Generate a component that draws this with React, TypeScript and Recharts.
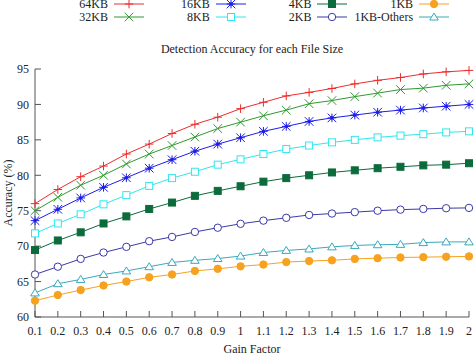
import React from 'react';
import { LineChart, Line, XAxis, YAxis } from 'recharts';

const gains = [0.1, 0.2, 0.3, 0.4, 0.5, 0.6, 0.7, 0.8, 0.9, 1.0, 1.1, 1.2, 1.3, 1.4, 1.5, 1.6, 1.7, 1.8, 1.9, 2.0];
const yTicks = [60, 65, 70, 75, 80, 85, 90, 95];

const acc64 = [76.0, 78.0, 79.8, 81.3, 83.0, 84.4, 85.9, 87.2, 88.2, 89.4, 90.3, 91.2, 91.7, 92.25, 92.9, 93.4, 93.8, 94.3, 94.6, 94.8];
const acc32 = [75.0, 76.9, 78.6, 80.0, 81.6, 83.0, 84.2, 85.4, 86.6, 87.5, 88.4, 89.2, 90.1, 90.55, 91.1, 91.6, 92.1, 92.3, 92.7, 92.9];
const acc16 = [73.6, 75.2, 76.8, 78.3, 79.65, 81.0, 82.2, 83.4, 84.4, 85.3, 86.2, 86.9, 87.6, 88.1, 88.5, 88.9, 89.2, 89.5, 89.75, 90.0];
const acc8 = [71.8, 73.2, 74.5, 75.9, 77.2, 78.5, 79.6, 80.5, 81.5, 82.25, 83.0, 83.7, 84.2, 84.65, 85.0, 85.35, 85.6, 85.8, 86.05, 86.2];
const acc4 = [69.45, 70.8, 71.95, 73.2, 74.2, 75.25, 76.15, 77.1, 77.8, 78.45, 79.1, 79.6, 80.0, 80.4, 80.7, 81.0, 81.2, 81.4, 81.5, 81.7];
const acc2 = [66.0, 67.1, 68.2, 69.1, 69.9, 70.7, 71.3, 72.0, 72.6, 73.15, 73.6, 74.0, 74.4, 74.6, 74.8, 75.0, 75.15, 75.25, 75.35, 75.4];
const acc1 = [62.3, 63.1, 63.8, 64.45, 65.0, 65.6, 66.0, 66.5, 66.8, 67.15, 67.4, 67.75, 67.9, 68.0, 68.2, 68.3, 68.4, 68.45, 68.5, 68.55];
const acc1Others = [63.4, 64.7, 65.3, 66.0, 66.5, 67.1, 67.7, 68.0, 68.25, 68.6, 69.1, 69.4, 69.6, 69.9, 70.1, 70.2, 70.25, 70.5, 70.6, 70.6];

const seriesNames = ['64KB', '32KB', '16KB', '8KB', '4KB', '2KB', '1KB', '1KB-Others'];
const seriesKeys = ['kb64', 'kb32', 'kb16', 'kb8', 'kb4', 'kb2', 'kb1', 'kb1o'];
const seriesValues = [acc64, acc32, acc16, acc8, acc4, acc2, acc1, acc1Others];
const seriesColors = ['#ee2c2c', '#2f9a2f', '#1e1eea', '#2ee6f0', '#0b6b3b', '#3a3aa8', '#f7a21e', '#3aaabb'];
const seriesShapes = ['plus', 'cross', 'star', 'square', 'fsquare', 'circle', 'fcircle', 'triangle'];

const data = gains.map((g, i) => {
  const row: any = { gain: g };
  seriesKeys.forEach((k, s) => { row[k] = seriesValues[s][i]; });
  return row;
});

const FONT = '"Liberation Serif", "Times New Roman", serif';
const AXIS = '#555';

function Marker({ shape, cx, cy, color }: { shape: string; cx: number; cy: number; color: string }) {
  const s = 4.3;
  switch (shape) {
    case 'plus':
      return (
        <g stroke={color} strokeWidth={1} fill="none">
          <line x1={cx - s} y1={cy} x2={cx + s} y2={cy} />
          <line x1={cx} y1={cy - s} x2={cx} y2={cy + s} />
        </g>
      );
    case 'cross':
      return (
        <g stroke={color} strokeWidth={1} fill="none">
          <line x1={cx - s} y1={cy - s} x2={cx + s} y2={cy + s} />
          <line x1={cx - s} y1={cy + s} x2={cx + s} y2={cy - s} />
        </g>
      );
    case 'star':
      return (
        <g stroke={color} strokeWidth={1} fill="none">
          <line x1={cx - s} y1={cy} x2={cx + s} y2={cy} />
          <line x1={cx} y1={cy - s} x2={cx} y2={cy + s} />
          <line x1={cx - s} y1={cy - s} x2={cx + s} y2={cy + s} />
          <line x1={cx - s} y1={cy + s} x2={cx + s} y2={cy - s} />
          <circle cx={cx} cy={cy} r={1.3} fill={color} />
        </g>
      );
    case 'square':
      return <rect x={cx - 3.5} y={cy - 3.5} width={7} height={7} stroke={color} strokeWidth={1} fill="#fff" />;
    case 'fsquare':
      return <rect x={cx - 3.5} y={cy - 3.5} width={7} height={7} stroke={color} strokeWidth={1} fill={color} />;
    case 'circle':
      return <circle cx={cx} cy={cy} r={3.7} stroke={color} strokeWidth={1} fill="#fff" />;
    case 'fcircle':
      return <circle cx={cx} cy={cy} r={3.7} stroke={color} strokeWidth={1} fill={color} />;
    case 'triangle':
    default:
      return (
        <polygon
          points={`${cx},${cy - 4} ${cx + 4.3},${cy + 3} ${cx - 4.3},${cy + 3}`}
          stroke={color}
          strokeWidth={1}
          fill="#fff"
        />
      );
  }
}

const makeDot = (shape: string, color: string) => (props: any) => {
  const { cx, cy, index } = props;
  if (cx == null || cy == null) return <g key={`e-${shape}-${index}`} />;
  return (
    <g key={`d-${shape}-${index}`}>
      <Marker shape={shape} cx={cx} cy={cy} color={color} />
    </g>
  );
};

const fmtGain = (v: number) => String(Math.round(v * 10) / 10);

const tickStyle = { fontFamily: FONT, fontSize: 12, fill: '#222' };

function LegendBlock() {
  return (
    <div style={{ position: 'absolute', left: 0, top: 0, width: 474, height: 24 }}>
      {seriesNames.map((name, i) => {
        const col = Math.floor(i / 2);
        const row = i % 2;
        const labelRight = 108 + col * 101.7;
        const cy = row === 0 ? 4.3 : 16.7;
        return (
          <React.Fragment key={name}>
            <div
              style={{
                position: 'absolute',
                left: labelRight - 100,
                width: 100,
                top: cy - 6,
                height: 12,
                lineHeight: '12px',
                textAlign: 'right',
                fontFamily: FONT,
                fontSize: 12,
                color: '#222',
                whiteSpace: 'nowrap',
              }}
            >
              {name}
            </div>
            <svg
              style={{ position: 'absolute', left: labelRight + 6, top: cy - 6 }}
              width={31}
              height={12}
            >
              <line x1={0} y1={6} x2={30} y2={6} stroke={seriesColors[i]} strokeWidth={1} />
              <Marker shape={seriesShapes[i]} cx={15} cy={6} color={seriesColors[i]} />
            </svg>
          </React.Fragment>
        );
      })}
    </div>
  );
}

export default function App() {
  return (
    <div style={{ position: 'absolute', left: 0, top: 0, width: 474, height: 354, overflow: 'hidden', background: '#fff' }}>
      <LineChart width={474} height={354} data={data} margin={{ top: 69, right: 5, bottom: 0, left: 0 }}>
        <XAxis
          dataKey="gain"
          type="number"
          domain={[0.1, 2]}
          ticks={gains}
          tickFormatter={fmtGain}
          height={37}
          tickSize={-6}
          tickMargin={15}
          tick={tickStyle}
          stroke={AXIS}
          axisLine={{ stroke: AXIS }}
          tickLine={{ stroke: AXIS }}
          interval={0}
        />
        <XAxis
          xAxisId="top"
          dataKey="gain"
          type="number"
          orientation="top"
          domain={[0.1, 2]}
          ticks={gains}
          tickFormatter={() => ''}
          height={0}
          tickSize={-6}
          stroke={AXIS}
          interval={0}
        />
        <YAxis
          type="number"
          domain={[60, 95]}
          ticks={yTicks}
          width={35}
          tickSize={-6}
          tickMargin={12}
          tick={tickStyle}
          stroke={AXIS}
          interval={0}
        />
        <YAxis
          yAxisId="right"
          orientation="right"
          type="number"
          domain={[60, 95]}
          ticks={yTicks}
          tickFormatter={() => ''}
          width={0}
          tickSize={-6}
          stroke={AXIS}
          interval={0}
        />
        {seriesKeys.map((k, s) => (
          <Line
            key={k}
            dataKey={k}
            name={seriesNames[s]}
            stroke={seriesColors[s]}
            strokeWidth={1}
            dot={makeDot(seriesShapes[s], seriesColors[s])}
            activeDot={false}
            isAnimationActive={false}
            type="linear"
          />
        ))}
      </LineChart>
      <LegendBlock />
      <div
        style={{
          position: 'absolute', left: 35, width: 434, top: 42, height: 14, lineHeight: '14px',
          textAlign: 'center', fontFamily: FONT, fontSize: 12, color: '#222',
        }}
      >
        Detection Accuracy for each File Size
      </div>
      <div
        style={{
          position: 'absolute', left: 35, width: 434, top: 342, height: 14, lineHeight: '14px',
          textAlign: 'center', fontFamily: FONT, fontSize: 12, color: '#222',
        }}
      >
        Gain Factor
      </div>
      <div
        style={{
          position: 'absolute', left: 8 - 60, width: 120, top: 193 - 7, height: 14, lineHeight: '14px',
          textAlign: 'center', fontFamily: FONT, fontSize: 12, color: '#222', transform: 'rotate(-90deg)',
        }}
      >
        Accuracy (%)
      </div>
    </div>
  );
}
